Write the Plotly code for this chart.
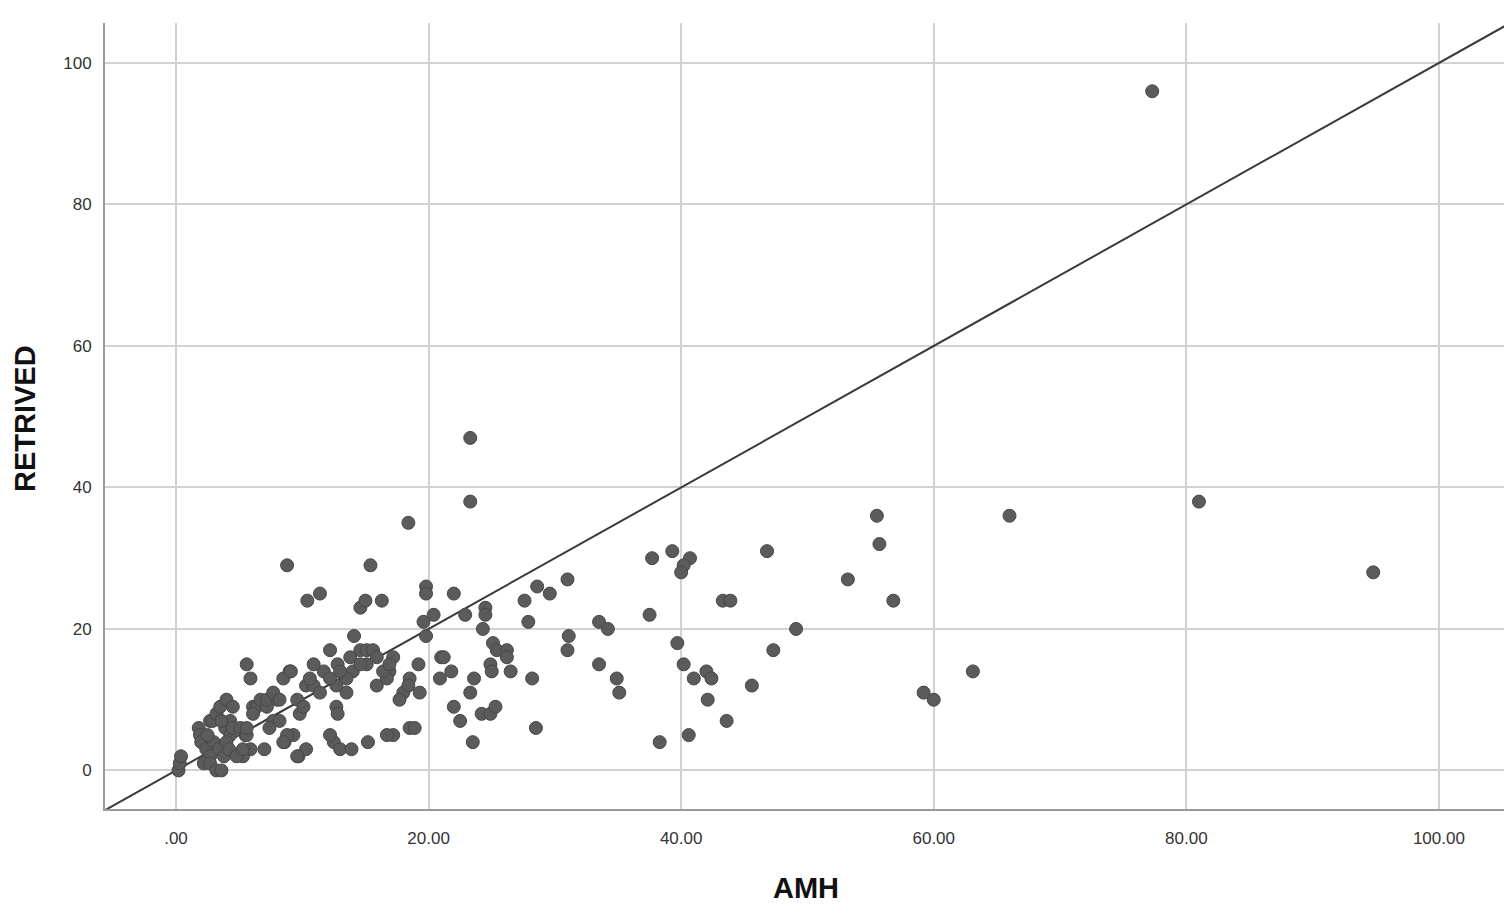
import plotly.graph_objects as go

# AMH vs number of oocytes retrieved
amh = [
    0.2, 0.3, 0.4, 1.8, 1.9, 2.0, 2.4, 2.7, 2.2, 2.7, 3.2, 3.6,
    2.7, 2.9, 3.2, 3.5, 4.0, 4.5, 4.3, 3.9, 4.3, 4.5, 3.0, 3.4, 3.8, 4.0, 2.5, 3.6, 4.2,
    5.1, 5.5, 5.9, 5.3, 4.8, 5.3, 5.6,
    6.1, 6.4, 6.7, 7.2, 7.2, 8.0, 6.1, 7.7, 7.7, 8.2,
    5.6, 5.9, 5.6, 7.4, 8.2, 7.0, 8.6, 9.3, 8.8, 8.5, 9.7, 10.3, 9.6,
    9.6, 9.8, 10.1, 10.3, 10.9, 11.7, 12.7, 9.0, 8.5, 9.1, 10.9, 10.6,
    8.8, 15.4, 10.4, 11.4, 14.6, 15.0, 16.3, 18.4,
    14.1, 12.2, 12.8, 13.8, 14.6, 15.1, 15.6, 15.9, 14.0, 13.5, 15.1, 14.6,
    17.2, 16.9, 16.7, 15.9, 16.4, 16.9,
    12.2, 13.0, 11.4, 13.5, 12.7, 12.8, 12.5, 12.2, 13.0, 13.9, 15.2, 17.2, 16.7, 18.5, 18.9,
    19.2, 18.5, 19.3, 18.0, 17.7, 18.4,
    19.8, 19.8, 20.4, 19.6, 19.8, 21.0, 21.2, 20.9, 21.8, 22.0, 22.9,
    23.3, 23.3, 24.5, 24.5, 24.3, 25.1, 25.4, 26.2, 26.2, 24.9, 25.0, 26.5,
    22.0, 22.5, 23.5, 23.3, 23.6, 24.2, 24.9, 25.3,
    28.5, 28.2, 27.6, 27.9, 28.6, 29.6, 31.0, 31.1, 31.0,
    33.5, 34.2, 33.5, 34.9, 35.1, 37.7, 37.5, 39.3, 40.7, 40.2, 40.0,
    39.7, 40.2, 41.0, 42.0, 42.4, 42.1, 40.6, 38.3, 43.6, 43.3, 43.9,
    46.8, 47.3, 45.6, 49.1,
    53.2, 55.5, 55.7, 56.8, 59.2, 60.0, 63.1, 66.0, 77.3, 81.0, 94.8,
]
retrived = [
    0, 1, 2, 6, 5, 4, 3, 2, 1, 1, 0, 0,
    7, 7, 8, 9, 10, 9, 7, 6, 5, 6, 4, 3, 2, 4, 5, 7, 3,
    6, 5, 3, 2, 2, 3, 5,
    9, 9, 10, 9, 10, 10, 8, 7, 11, 10,
    15, 13, 6, 6, 7, 3, 4, 5, 5, 4, 2, 3, 2,
    10, 8, 9, 12, 12, 14, 12, 14, 13, 14, 15, 13,
    29, 29, 24, 25, 23, 24, 24, 35,
    19, 17, 15, 16, 17, 17, 17, 16, 14, 13, 15, 15,
    16, 14, 13, 12, 14, 15,
    13, 14, 11, 11, 9, 8, 4, 5, 3, 3, 4, 5, 5, 6, 6,
    15, 13, 11, 11, 10, 12,
    26, 25, 22, 21, 19, 16, 16, 13, 14, 25, 22,
    47, 38, 23, 22, 20, 18, 17, 17, 16, 15, 14, 14,
    9, 7, 4, 11, 13, 8, 8, 9,
    6, 13, 24, 21, 26, 25, 27, 19, 17,
    21, 20, 15, 13, 11, 30, 22, 31, 30, 29, 28,
    18, 15, 13, 14, 13, 10, 5, 4, 7, 24, 24,
    31, 17, 12, 20,
    27, 36, 32, 24, 11, 10, 14, 36, 96, 38, 28,
]

x_range = [-5.62, 105.55]
y_range = [-5.45, 105.65]
tick_vals = [0, 20, 40, 60, 80, 100]
x_tick_text = [".00", "20.00", "40.00", "60.00", "80.00", "100.00"]
y_tick_text = ["0", "20", "40", "60", "80", "100"]

fig = go.Figure()

# reference line y = x across the whole plot
fig.add_trace(go.Scatter(
    x=x_range, y=x_range,
    mode="lines",
    line=dict(color="#3a3a3a", width=2),
    hoverinfo="skip",
    showlegend=False,
))

fig.add_trace(go.Scatter(
    x=amh, y=retrived,
    mode="markers",
    marker=dict(size=13, color="#5b5b5b", line=dict(color="#474747", width=1)),
    showlegend=False,
))

axis_font = dict(family="Liberation Sans, Arial, sans-serif", size=17, color="#333333")

fig.update_xaxes(
    range=x_range,
    tickvals=tick_vals, ticktext=x_tick_text,
    showgrid=True, gridcolor="#d2d2d2", gridwidth=2,
    zeroline=False,
    showline=True, linecolor="#9a9a9a", linewidth=2,
    ticks="", ticklabelstandoff=13,
    tickfont=axis_font,
)
fig.update_yaxes(
    range=y_range,
    tickvals=tick_vals, ticktext=y_tick_text,
    showgrid=True, gridcolor="#d2d2d2", gridwidth=2,
    zeroline=False,
    showline=True, linecolor="#9a9a9a", linewidth=2,
    ticks="", ticklabelstandoff=8,
    tickfont=axis_font,
)

title_font = dict(family="Liberation Sans, Arial, sans-serif", size=29, color="#111111")
fig.add_annotation(text="<b>AMH</b>", xref="paper", yref="paper",
                   x=0.4996, y=-0.1005, yanchor="middle", showarrow=False, font=title_font)
fig.add_annotation(text="<b>RETRIVED</b>", xref="paper", yref="paper",
                   x=-0.0575, y=0.4965, xanchor="center", yanchor="middle",
                   textangle=-90, showarrow=False, font=title_font)

# page body keeps its 8px margin, so the figure is sized to fit without scrollbars
fig.update_layout(
    width=1504, height=904,
    margin=dict(l=97, r=3, t=15, b=103),
    plot_bgcolor="white",
    paper_bgcolor="white",
)

fig.write_html("out.html")
